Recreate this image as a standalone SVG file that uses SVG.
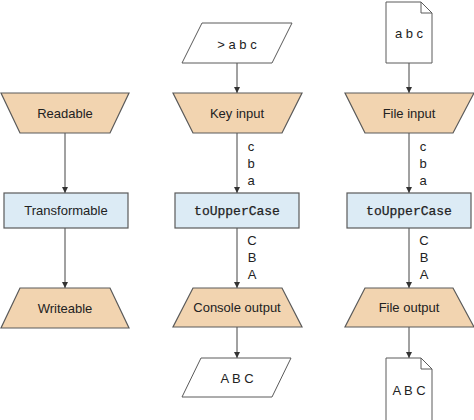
<svg xmlns="http://www.w3.org/2000/svg" width="474" height="420" viewBox="0 0 474 420">
<style>
.trap{fill:#f2d4b0;stroke:#5a5a5a;stroke-width:1.2}
.box{fill:#dcebf5;stroke:#5a5a5a;stroke-width:1.2}
.io{fill:#ffffff;stroke:#5a5a5a;stroke-width:1}
.t{font-family:"Liberation Sans",Arial,sans-serif;font-size:13px;fill:#222;text-anchor:middle}
.m{font-family:"Liberation Mono","Courier New",monospace;font-size:13px;fill:#222;text-anchor:middle;stroke:#222;stroke-width:0.25}
.lbl{font-family:"Liberation Sans",Arial,sans-serif;font-size:13px;fill:#222;text-anchor:middle}
.c{stroke:#444;stroke-width:1;fill:none;marker-end:url(#ah)}
</style>
<defs>
<marker id="ah" viewBox="0 0 8 8" refX="8" refY="4" markerWidth="6" markerHeight="6" markerUnits="userSpaceOnUse" orient="auto">
<path d="M0,0 L8,4 L0,8 z" fill="#333"/>
</marker>
</defs>
<rect width="474" height="420" fill="#ffffff"/>
<g id="connectors">
<line class="c" x1="65" y1="133" x2="65" y2="193"/>
<line class="c" x1="65" y1="228" x2="65" y2="288"/>
<line class="c" x1="237" y1="63" x2="237" y2="93"/>
<line class="c" x1="237" y1="133" x2="237" y2="193"/>
<line class="c" x1="237" y1="228" x2="237" y2="288"/>
<line class="c" x1="237" y1="327" x2="237" y2="358"/>
<line class="c" x1="409" y1="63" x2="409" y2="93"/>
<line class="c" x1="409" y1="133" x2="409" y2="193"/>
<line class="c" x1="409" y1="228" x2="409" y2="288"/>
<line class="c" x1="409" y1="327" x2="409" y2="358"/>
<text class="lbl" x="251" y="151">c</text>
<text class="lbl" x="251" y="168">b</text>
<text class="lbl" x="251" y="185">a</text>
<text class="lbl" x="252" y="245">C</text>
<text class="lbl" x="252" y="262">B</text>
<text class="lbl" x="252" y="279">A</text>
<text class="lbl" x="423" y="151">c</text>
<text class="lbl" x="423" y="168">b</text>
<text class="lbl" x="423" y="185">a</text>
<text class="lbl" x="424" y="245">C</text>
<text class="lbl" x="424" y="262">B</text>
<text class="lbl" x="424" y="279">A</text>
</g>
<g id="readable">
<polygon class="trap" points="1,93 129,93 110,133 20,133"/>
<text class="t" x="65" y="118">Readable</text>
</g>
<g id="transformable">
<rect class="box" x="4" y="193" width="124" height="35"/>
<text class="t" x="66" y="215">Transformable</text>
</g>
<g id="writeable">
<polygon class="trap" points="20,288 110,288 129,328 1,328"/>
<text class="t" x="65" y="313">Writeable</text>
</g>
<g id="key-source">
<polygon class="io" points="202,23 292,23 272,63 182,63"/>
<text class="t" x="237" y="49">&gt; a b c</text>
</g>
<g id="key-input">
<polygon class="trap" points="173,93 302,93 282,133 193,133"/>
<text class="t" x="237" y="118">Key input</text>
</g>
<g id="upper1">
<rect class="box" x="175" y="193" width="124" height="35"/>
<text class="m" x="237" y="215">toUpperCase</text>
</g>
<g id="console-output">
<polygon class="trap" points="193,288 282,288 302,327 173,327"/>
<text class="t" x="237" y="312">Console output</text>
</g>
<g id="console-result">
<polygon class="io" points="201,358 291,358 272,397 182,397"/>
<text class="t" x="237" y="383">A B C</text>
</g>
<g id="file-source">
<path class="io" d="M386,2 L421,2 L432,13 L432,63 L386,63 Z M421,2 L421,13 L432,13"/>
<text class="t" x="409" y="38">a b c</text>
</g>
<g id="file-input">
<polygon class="trap" points="345,93 474,93 453,133 365,133"/>
<text class="t" x="409" y="118">File input</text>
</g>
<g id="upper2">
<rect class="box" x="347" y="193" width="124" height="35"/>
<text class="m" x="409" y="215">toUpperCase</text>
</g>
<g id="file-output">
<polygon class="trap" points="365,288 453,288 474,327 345,327"/>
<text class="t" x="409" y="312">File output</text>
</g>
<g id="file-result">
<path class="io" d="M386,358 L421,358 L432,369 L432,421 L386,421 Z M421,358 L421,369 L432,369"/>
<text class="t" x="409" y="395">A B C</text>
</g>
</svg>
